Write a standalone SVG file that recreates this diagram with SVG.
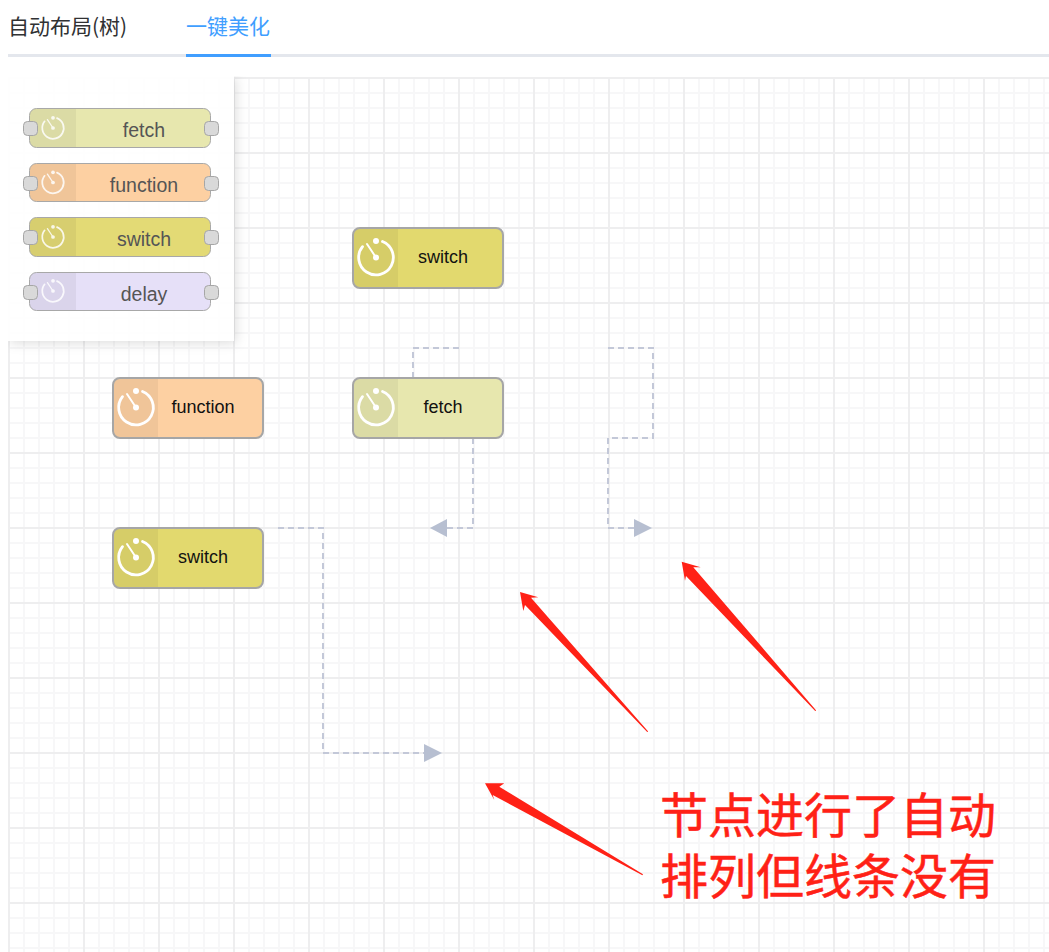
<svg xmlns="http://www.w3.org/2000/svg" width="1049" height="952" viewBox="0 0 1049 952">
<style>
text{font-family:"Liberation Sans","Noto Sans CJK SC",sans-serif}
.minor{stroke:#f7f7f8;stroke-width:2;fill:none}
.major{stroke:#eeeeef;stroke-width:2;fill:none}
.nb{stroke:#a6a6a6;stroke-width:2}
.pb{stroke:#a8a8a8;stroke-width:1}
.side{fill:#000;fill-opacity:.05}
.lbl{font-size:18px;fill:#111;text-anchor:middle}
.plbl{font-size:19.500px;fill:#555;text-anchor:middle}
.port{fill:#d9d9d9;stroke:#a6a6a6;stroke-width:1}
.wire{fill:none;stroke:#c3c8d8;stroke-width:2;stroke-dasharray:6 4}
.head{fill:#b7bfd1}
.red{fill:#ff2116}
.note{font-family:"Noto Sans CJK SC","Liberation Sans",sans-serif;font-size:48px;fill:#ff2116;stroke:#ff2116;stroke-width:.5}
.tab{font-family:"Noto Sans CJK SC","Liberation Sans",sans-serif;font-size:21px}
</style>
<defs>
<filter id="sh" x="0" y="0" width="110%" height="110%"><feDropShadow dx="2" dy="2" stdDeviation="6" flood-color="#000" flood-opacity=".14"/></filter>
<g id="icon" fill="none" stroke="#fff" stroke-linecap="round">
<path d="M6.500 -16A17.300 17.300 0 1 1 -13.500 -10.800" stroke-width="2.800"/>
<path d="M0 0L-9 -13.500" stroke-width="2"/>
<circle cx="0" cy="0" r="3" fill="#fff" stroke="none"/>
<circle cx="0" cy="-16.500" r="3" fill="#fff" stroke="none"/>
</g>
</defs>
<rect width="1049" height="952" fill="#fff"/>
<g id="grid">
<path class="minor" d="M24 78V952M39 78V952M54 78V952M69 78V952M99 78V952M114 78V952M129 78V952M144 78V952M174 78V952M189 78V952M204 78V952M219 78V952M249 78V952M264 78V952M279 78V952M294 78V952M324 78V952M339 78V952M354 78V952M369 78V952M399 78V952M414 78V952M429 78V952M444 78V952M474 78V952M489 78V952M504 78V952M519 78V952M549 78V952M564 78V952M579 78V952M594 78V952M624 78V952M639 78V952M654 78V952M669 78V952M699 78V952M714 78V952M729 78V952M744 78V952M774 78V952M789 78V952M804 78V952M819 78V952M849 78V952M864 78V952M879 78V952M894 78V952M924 78V952M939 78V952M954 78V952M969 78V952M999 78V952M1014 78V952M1029 78V952M1044 78V952"/>
<path class="minor" d="M8 93H1049M8 108H1049M8 123H1049M8 138H1049M8 168H1049M8 183H1049M8 198H1049M8 213H1049M8 243H1049M8 258H1049M8 273H1049M8 288H1049M8 318H1049M8 333H1049M8 348H1049M8 363H1049M8 393H1049M8 408H1049M8 423H1049M8 438H1049M8 468H1049M8 483H1049M8 498H1049M8 513H1049M8 543H1049M8 558H1049M8 573H1049M8 588H1049M8 618H1049M8 633H1049M8 648H1049M8 663H1049M8 693H1049M8 708H1049M8 723H1049M8 738H1049M8 768H1049M8 783H1049M8 798H1049M8 813H1049M8 843H1049M8 858H1049M8 873H1049M8 888H1049M8 918H1049M8 933H1049M8 948H1049"/>
<path class="major" d="M9 78V952M84 78V952M159 78V952M234 78V952M309 78V952M384 78V952M459 78V952M534 78V952M609 78V952M684 78V952M759 78V952M834 78V952M909 78V952M984 78V952"/>
<path class="major" d="M8 78H1049M8 153H1049M8 228H1049M8 303H1049M8 378H1049M8 453H1049M8 528H1049M8 603H1049M8 678H1049M8 753H1049M8 828H1049M8 903H1049"/>
</g>
<g id="tabs">
<text class="tab" x="8" y="34" fill="#303133">自动布局(树)</text>
<text class="tab" x="186" y="34" fill="#409eff">一键美化</text>
<rect x="8" y="54" width="1041" height="3" fill="#e4e7ed"/>
<rect x="186" y="54" width="85" height="3" fill="#409eff"/>
</g>
<g id="connectors">
<path class="wire" d="M413 378V348H459"/>
<path class="wire" d="M473 438V528H446"/>
<polygon class="head" points="430,528 447,519 447,537"/>
<path class="wire" d="M608 348H653V438H608V528H635"/>
<polygon class="head" points="652,528 634,519 634,537"/>
<path class="wire" d="M278 528H323V753H425"/>
<polygon class="head" points="442,753 424,744 424,762"/>
</g>
<rect id="palette" x="8" y="76" width="226" height="265" fill="#fff" fill-opacity=".97" filter="url(#sh)"/>
<g id="palette-fetch">
<rect x="29.500" y="108.500" width="181" height="39" rx="7" fill="#e7e7ae" class="pb"/>
<path class="side" d="M36 109H76V147H36A6 6 0 0 1 30 141V115A6 6 0 0 1 36 109Z"/>
<use href="#icon" transform="translate(53 128) scale(.62)" opacity=".85"/>
<rect x="23.500" y="121.500" width="14" height="14" rx="4" class="port"/>
<rect x="204.500" y="121.500" width="14" height="14" rx="4" class="port"/>
<text class="plbl" x="144" y="137">fetch</text>
</g>
<g id="palette-function">
<rect x="29.500" y="163.500" width="181" height="38" rx="7" fill="#fdd0a2" class="pb"/>
<path class="side" d="M36 164H76V201H36A6 6 0 0 1 30 195V170A6 6 0 0 1 36 164Z"/>
<use href="#icon" transform="translate(53 182.500) scale(.62)" opacity=".85"/>
<rect x="23.500" y="176.500" width="14" height="14" rx="4" class="port"/>
<rect x="204.500" y="176.500" width="14" height="14" rx="4" class="port"/>
<text class="plbl" x="144" y="192">function</text>
</g>
<g id="palette-switch">
<rect x="29.500" y="217.500" width="181" height="39" rx="7" fill="#e3da75" class="pb"/>
<path class="side" d="M36 218H76V256H36A6 6 0 0 1 30 250V224A6 6 0 0 1 36 218Z"/>
<use href="#icon" transform="translate(53 237) scale(.62)" opacity=".85"/>
<rect x="23.500" y="230.500" width="14" height="14" rx="4" class="port"/>
<rect x="204.500" y="230.500" width="14" height="14" rx="4" class="port"/>
<text class="plbl" x="144" y="246">switch</text>
</g>
<g id="palette-delay">
<rect x="29.500" y="272.500" width="181" height="38" rx="7" fill="#e6e0f8" class="pb"/>
<path class="side" d="M36 273H76V310H36A6 6 0 0 1 30 304V279A6 6 0 0 1 36 273Z"/>
<use href="#icon" transform="translate(53 291) scale(.62)" opacity=".85"/>
<rect x="23.500" y="285.500" width="14" height="14" rx="4" class="port"/>
<rect x="204.500" y="285.500" width="14" height="14" rx="4" class="port"/>
<text class="plbl" x="144" y="301">delay</text>
</g>
<g id="node-switch-1">
<rect x="353" y="228" width="150" height="60" rx="7" fill="#e2d96e" class="nb"/>
<path class="side" d="M360 229H398V287H360A6 6 0 0 1 354 281V235A6 6 0 0 1 360 229Z"/>
<use href="#icon" transform="translate(376 257.500)"/>
<text class="lbl" x="443" y="263">switch</text>
</g>
<g id="node-function">
<rect x="113" y="378" width="150" height="60" rx="7" fill="#fdd0a2" class="nb"/>
<path class="side" d="M120 379H158V437H120A6 6 0 0 1 114 431V385A6 6 0 0 1 120 379Z"/>
<use href="#icon" transform="translate(136 407.500)"/>
<text class="lbl" x="203" y="413">function</text>
</g>
<g id="node-fetch">
<rect x="353" y="378" width="150" height="60" rx="7" fill="#e7e7ae" class="nb"/>
<path class="side" d="M360 379H398V437H360A6 6 0 0 1 354 431V385A6 6 0 0 1 360 379Z"/>
<use href="#icon" transform="translate(376 407.500)"/>
<text class="lbl" x="443" y="413">fetch</text>
</g>
<g id="node-switch-2">
<rect x="113" y="528" width="150" height="60" rx="7" fill="#e2d96e" class="nb"/>
<path class="side" d="M120 529H158V587H120A6 6 0 0 1 114 581V535A6 6 0 0 1 120 529Z"/>
<use href="#icon" transform="translate(136 557.500)"/>
<text class="lbl" x="203" y="563">switch</text>
</g>
<g id="annotations">
<polygon class="red" points="520,592 538.300,597.300 531,597.700 648.200,731.400 647.200,732 525,605 523.300,611"/>
<polygon class="red" points="681.700,561.700 700.700,567.300 693.300,567.300 816.200,710.400 815.200,711 686,576 685,580.700"/>
<polygon class="red" points="485,783.300 504.300,783.300 499.300,786.700 643,874.200 642.400,875.200 492.700,795 494.300,800"/>
<text class="note" x="660" y="833">节点进行了自动</text>
<text class="note" x="660" y="894">排列但线条没有</text>
</g>
</svg>
